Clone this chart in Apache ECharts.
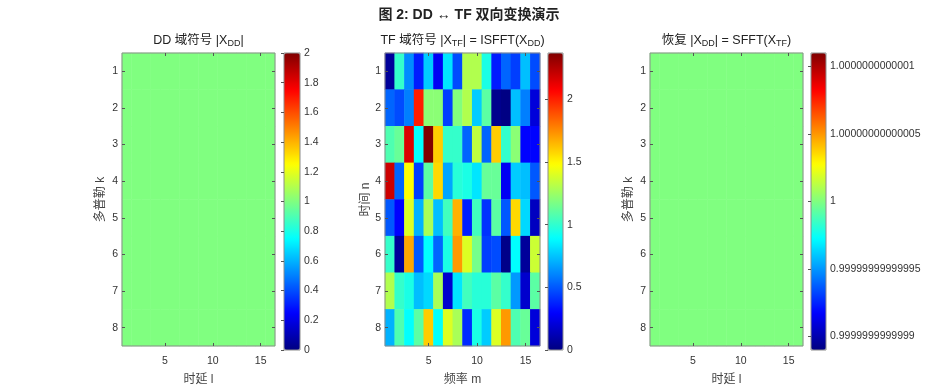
<!DOCTYPE html>
<html><head><meta charset="utf-8">
<script src="https://cdn.jsdelivr.net/npm/echarts@6/dist/echarts.min.js"></script>
<style>html,body{margin:0;padding:0;background:#fff}#c{width:938px;height:391px}</style>
</head><body><div id="c"></div><script>
// ---- data ----
const delayCats = ['1','2','3','4','5','6','7','8','9','10','11','12','13','14','15','16'];
const dopplerCats = ['1','2','3','4','5','6','7','8'];
const xTickShown = ['5','10','15'];

// DD domain |X_DD| (8 x 16)
const xDD = [
  [1,1,1,1,1,1,1,1,1,1,1,1,1,1,1,1],
  [1,1,1,1,1,1,1,1,1,1,1,1,1,1,1,1],
  [1,1,1,1,1,1,1,1,1,1,1,1,1,1,1,1],
  [1,1,1,1,1,1,1,1,1,1,1,1,1,1,1,1],
  [1,1,1,1,1,1,1,1,1,1,1,1,1,1,1,1],
  [1,1,1,1,1,1,1,1,1,1,1,1,1,1,1,1],
  [1,1,1,1,1,1,1,1,1,1,1,1,1,1,1,1],
  [1,1,1,1,1,1,1,1,1,1,1,1,1,1,1,1]
];
// TF domain |X_TF| (8 x 16)
const xTF = [
  [0.06,1.01,0.62,0.36,0.77,0.27,0.83,0.47,1.30,1.30,0.95,0.36,0.53,0.44,0.74,0.47],
  [0.53,0.47,0.59,2.01,1.21,1.21,0.44,1.19,1.30,0.77,1.10,0.03,0.01,0.74,0.59,0.21],
  [1.07,1.13,2.16,0.89,2.37,1.60,1.01,1.01,0.53,1.33,0.53,1.60,1.01,1.21,0.30,0.30],
  [2.19,0.53,1.48,0.44,1.10,1.57,0.68,0.98,0.95,0.83,1.13,1.13,0.27,0.77,0.74,0.50],
  [0.50,0.30,1.40,0.71,1.28,0.74,1.04,1.66,0.36,1.04,0.41,1.10,0.50,1.57,0.80,0.15],
  [1.01,0.06,1.69,0.50,0.89,0.53,0.95,1.72,1.40,1.16,0.44,0.47,0.02,0.89,0.06,1.36],
  [1.30,1.01,0.95,0.74,0.80,1.28,0.18,0.83,1.04,0.98,0.98,1.10,1.01,0.65,0.18,1.10],
  [0.71,1.07,0.89,1.10,1.60,0.89,1.40,1.28,0.39,0.95,0.77,1.40,1.72,1.07,1.13,0.21]
];
// recovered |X_DD| (8 x 16)
const xRec = [
  [1,1,1,1,1,1,1,1,1,1,1,1,1,1,1,1],
  [1,1,1,1,1,1,1,1,1,1,1,1,1,1,1,1],
  [1,1,1,1,1,1,1,1,1,1,1,1,1,1,1,1],
  [1,1,1,1,1,1,1,1,1,1,1,1,1,1,1,1],
  [1,1,1,1,1,1,1,1,1,1,1,1,1,1,1,1],
  [1,1,1,1,1,1,1,1,1,1,1,1,1,1,1,1],
  [1,1,1,1,1,1,1,1,1,1,1,1,1,1,1,1],
  [1,1,1,1,1,1,1,1,1,1,1,1,1,1,1,1]
];
const ddBarTicks = [0,0.2,0.4,0.6,0.8,1,1.2,1.4,1.6,1.8,2];
const tfBarTicks = [0,0.5,1,1.5,2];
const recBarOffsets = [-1,-0.5,0,0.5,1];          // units of 1e-13 around 1
const recBarLabels = ['0.9999999999999','0.99999999999995','1','1.00000000000005','1.0000000000001'];

// ---- chart ----
const FONT = "'Liberation Sans','Noto Sans CJK SC',sans-serif";
const jet = ['#000080','#0000FF','#0080FF','#00FFFF','#80FF80','#FFFF00','#FF8000','#FF0000','#800000'];
const TXT = '#333333', TICK = '#555555', BORDER = '#8c8c8c';

function cells(mat, f){ const out=[]; mat.forEach((row,r)=>row.forEach((v,c)=>out.push([c,r,f?f(v):v]))); return out; }
const tfMax = Math.max(...xTF.flat());

const gridBox = (l,w)=>({left:l, top:53, width:w, height:297, show:true, z:5, backgroundColor:'transparent', borderColor:BORDER, borderWidth:1, containLabel:false});
const grids = [gridBox(122,153), gridBox(284,16), gridBox(385,155), gridBox(548,15), gridBox(650,153), gridBox(811,15)];

const xAxes = [], yAxes = [], series = [], visualMaps = [];
const subRich = {
  n:{fontSize:12.5, color:'#222', fontFamily:FONT},
  s:{fontSize:9, color:'#222', fontFamily:FONT, verticalAlign:'bottom', padding:[6,0,0,0]}
};
const showX = (i,v)=>xTickShown.includes(String(v));
function heatPanel(g, title, xName, yName, yGap){
  const xb = xAxes.length;
  xAxes.push({type:'category', gridIndex:g, data:delayCats, position:'bottom', z:6,
    axisLine:{show:false}, splitLine:{show:false},
    axisTick:{show:true, inside:true, length:3, alignWithLabel:true, interval:showX, lineStyle:{color:TICK}},
    axisLabel:{interval:showX, color:TXT, fontSize:10.5, margin:10, fontFamily:FONT},
    name:xName, nameLocation:'middle', nameGap:28, nameTextStyle:{color:'#444', fontSize:12, fontFamily:FONT}});
  xAxes.push({type:'category', gridIndex:g, data:delayCats, position:'top', z:6,
    axisLine:{show:false}, splitLine:{show:false},
    axisTick:{show:true, inside:true, length:3, alignWithLabel:true, interval:showX, lineStyle:{color:TICK}},
    axisLabel:{show:false},
    name:title, nameLocation:'middle', nameGap:5, nameTextStyle:{rich:subRich, fontFamily:FONT}});
  const yl = yAxes.length;
  yAxes.push({type:'category', gridIndex:g, data:dopplerCats, inverse:true, position:'left', z:6,
    axisLine:{show:false}, splitLine:{show:false},
    axisTick:{show:true, inside:true, length:3, alignWithLabel:true, lineStyle:{color:TICK}},
    axisLabel:{color:TXT, fontSize:10.5, margin:4, fontFamily:FONT},
    name:yName, nameLocation:'middle', nameRotate:90, nameGap:yGap, nameTextStyle:{color:'#444', fontSize:12, fontFamily:FONT}});
  yAxes.push({type:'category', gridIndex:g, data:dopplerCats, inverse:true, position:'right', z:6,
    axisLine:{show:false}, splitLine:{show:false},
    axisTick:{show:true, inside:true, length:3, alignWithLabel:true, lineStyle:{color:TICK}},
    axisLabel:{show:false}});
  return {xb, yl};
}
function colorBar(g, min, max, ticks, fmt){
  xAxes.push({type:'value', gridIndex:g, show:false, min:0, max:1});
  yAxes.push({type:'value', gridIndex:g, position:'right', min, max, z:6,
    axisLine:{show:false}, splitLine:{show:false},
    axisTick:{show:true, inside:true, length:3, customValues:ticks, lineStyle:{color:TICK}},
    axisLabel:{customValues:ticks, color:TXT, fontSize:10.5, margin:4, fontFamily:FONT, formatter:fmt}});
}
function vm(si, min, max, left, w){
  visualMaps.push({type:'continuous', seriesIndex:si, min, max, calculable:false, hoverLink:false,
    left, top:53, itemWidth:w, itemHeight:297, padding:0, orient:'vertical', inRange:{color:jet}});
}

const p1 = heatPanel(0, '{n|DD 域符号 |X}{s|DD}{n||}', '时延 l', '多普勒 k', 15);
colorBar(1, 0, 2, ddBarTicks);
const p2 = heatPanel(2, '{n|TF 域符号 |X}{s|TF}{n|| = ISFFT(X}{s|DD}{n|)}', '频率 m', '时间 n', 13);
colorBar(3, 0, tfMax, tfBarTicks);
const p3 = heatPanel(4, '{n|恢复 |X}{s|DD}{n|| = SFFT(X}{s|TF}{n|)}', '时延 l', '多普勒 k', 15);
colorBar(5, -1.1, 1.1, recBarOffsets, v=>{const i=recBarOffsets.indexOf(v); return i>=0?recBarLabels[i]:'';});

const hs = (p, data)=>({type:'heatmap', xAxisIndex:p.xb, yAxisIndex:p.yl, data, progressive:0,
  itemStyle:{borderWidth:0}, emphasis:{disabled:true}});
series.push(hs(p1, cells(xDD)));
series.push(hs(p2, cells(xTF)));
series.push(hs(p3, cells(xRec, v=>(v-1)*1e13)));
vm(0, 0, 2, 284, 16);
vm(1, 0, tfMax, 548, 15);
vm(2, -1.1, 1.1, 811, 15);

const chart = echarts.init(document.getElementById('c'), null, {renderer:'canvas'});
chart.setOption({
  animation:false,
  backgroundColor:'#ffffff',
  title:{text:'图 2: DD ↔ TF 双向变换演示', left:'center', top:8, padding:0,
    textStyle:{fontSize:14, fontWeight:'bold', color:'#222', fontFamily:FONT}},
  grid:grids, xAxis:xAxes, yAxis:yAxes, visualMap:visualMaps, series
});
</script></body></html>
